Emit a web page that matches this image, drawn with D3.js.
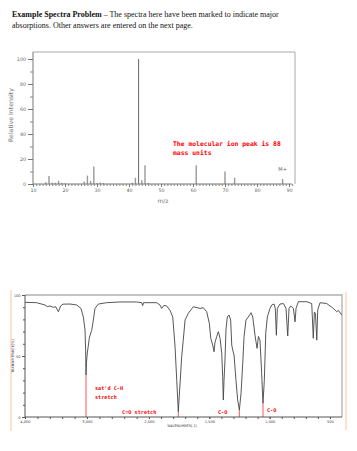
<!DOCTYPE html>
<html><head><meta charset="utf-8">
<script src="https://cdn.jsdelivr.net/npm/d3@7"></script>
<style>body{margin:0;background:#fff}svg{display:block}</style>
</head><body>
<script>
// ---------- Mass spectrum data ----------
const msMz  = [14, 15, 16, 17, 18, 19, 20, 26, 27, 28, 29, 30, 31, 32, 41, 42, 43, 44, 45, 46, 61, 70, 73, 88];
const msInt = [1.5, 6.5, 1, 1, 2.5, 1, 0.6, 2, 6.7, 2.4, 14, 0.8, 1.2, 0.8, 1, 5, 100, 3, 15, 0.8, 15, 10, 5, 4];
const msXTicks = [10, 20, 30, 40, 50, 60, 70, 80, 90];
const msYTicks = [0, 20, 40, 60, 80, 100];

// ---------- IR spectrum data ----------
const irWn = [4000,3812,3677,3640,3597,3543,3505,3462,3425,3387,3274,3166,3097,3059,3032,3022,3016,3008,2995,2980,2963,2945,2924,2898,2871,2817,2683,2468,2199,2118,2102,2090,1936,1909,1895,1876,1853,1826,1803,1784,1770,1757,1729,1716,1701,1674,1633,1577,1550,1522,1500,1488,1472,1461,1453,1439,1425,1411,1397,1389,1384,1378,1370,1362,1351,1337,1323,1314,1306,1295,1279,1265,1251,1237,1223,1212,1196,1177,1154,1140,1121,1113,1104,1093,1080,1066,1055,1044,1032,1019,997,983,963,953,944,936,914,886,864,850,839,825,803,789,781,762,692,651,638,629,620,609,601,582,527,472,444,430,402];
const irT  = [94,93.7,91.8,90.4,91,89.9,90.4,86.3,91,92.5,92.6,91.8,89,82,71.3,55,34.4,45,52.4,58,64.6,68,71,79.5,89,92.6,93.7,94.3,94.3,93.7,91.3,93.7,93.7,91.8,89,91.5,91,87.4,82,57.6,30,4.4,49.4,63,79.5,85,90.4,89,89.6,86.3,76.8,64.5,59,53.5,61,65.8,70,64.5,52,33,14,30,46.7,71.3,82,83.6,79.5,59,55,50.8,30,14,5.7,19.4,44,65.8,79.5,82,85.5,82,67,61.7,56.3,66,63,35.8,11.2,30,68.6,82,89,91.8,92.6,89,67,89,92.6,93,89,66.4,89,91,89,78,89,94.5,94.5,93,64.5,86,85,63,88,93.7,93,89,86.3,87.4,83.6];
const irXLabels = [4000, 3000, 2000, 1500, 1000, 500];
const irYLabels = [0, 50, 100];
const irMarkWn  = [3016, 1757, 1251, 1055];
const irMarkT   = [34.4, 4.4, 5.7, 11.2];
const irNotes = [
  {text: "sat'd C-H", wn: 2871, t: 22},
  {text: "stretch",   wn: 2871, t: 14.7},
  {text: "C=O stretch", wn: 2435, t: 2.5},
  {text: "C-O", wn: 1428, t: 2.5},
  {text: "C-O", wn: 1022, t: 4}
];

const W = 357, H = 451;
const svg = d3.select("body").append("svg").attr("width", W).attr("height", H);
svg.append("rect").attr("width", W).attr("height", H).attr("fill", "#fff");

// ---------- Header ----------
const hdr = svg.append("g").attr("font-family", "'Liberation Serif', 'Times New Roman', serif")
  .attr("font-size", 8).attr("fill", "#111");
const t1 = hdr.append("text").attr("x", 12).attr("y", 17);
t1.append("tspan").attr("font-weight", "bold").text("Example Spectra Problem");
t1.append("tspan").text(" \u2013 The spectra here have been marked to indicate major");
hdr.append("text").attr("x", 12).attr("y", 27.5).text("absorptions. Other answers are entered on the next page.");

// ---------- Mass spectrum ----------
const msX = d3.scaleLinear().domain([10, 90]).range([33, 289]);
const msY = d3.scaleLinear().domain([0, 100]).range([184, 59]);
const ms = svg.append("g");
ms.append("path").attr("d", `M33,52H295V184`).attr("fill", "none").attr("stroke", "#aaa").attr("stroke-width", 1);
ms.selectAll("line.bar").data(msMz).join("line").attr("class", "bar")
  .attr("x1", d => msX(d)).attr("x2", d => msX(d))
  .attr("y1", msY(0)).attr("y2", (d, i) => msY(msInt[i]))
  .attr("stroke", (d, i) => msInt[i] > 50 ? "#666" : "#999")
  .attr("stroke-width", (d, i) => msInt[i] > 50 ? 1 : 1.4);
const msXAxis = d3.axisBottom(msX).tickValues(msXTicks).tickSize(3).tickPadding(2).tickFormat(d3.format("d"));
const gx = ms.append("g").attr("transform", "translate(0,184)").call(msXAxis);
gx.select(".domain").attr("d", "M33,0H292").attr("stroke", "#777");
gx.selectAll(".tick line").attr("stroke", "#777");
gx.selectAll("text").attr("font-family", "'DejaVu Sans', sans-serif").attr("font-size", 4.8).attr("fill", "#666");
const msXMinor = d3.range(11, 92).filter(v => v % 10 !== 0);
ms.append("g").attr("transform", "translate(0,184)").call(d3.axisBottom(msX).tickValues(msXMinor).tickSize(2).tickFormat(""))
  .call(g => g.select(".domain").remove()).selectAll("line").attr("stroke", "#888");
const msYAxis = d3.axisLeft(msY).tickValues(msYTicks).tickSize(5).tickPadding(2);
const gy = ms.append("g").attr("transform", "translate(33,0)").call(msYAxis);
gy.select(".domain").attr("d", "M0,52V184").attr("stroke", "#777");
gy.selectAll(".tick line").attr("stroke", "#777");
gy.selectAll("text").attr("font-family", "'DejaVu Sans', sans-serif").attr("font-size", 4.8).attr("fill", "#666");
ms.append("g").attr("transform", "translate(33,0)").call(d3.axisLeft(msY).tickValues([10,30,50,70,90]).tickSize(3).tickFormat(""))
  .call(g => g.select(".domain").remove()).selectAll("line").attr("stroke", "#888");
ms.append("text").attr("transform", "translate(13,115) rotate(-90)").attr("text-anchor", "middle")
  .attr("font-family", "'DejaVu Sans', sans-serif").attr("font-size", 6.2).attr("fill", "#777").text("Relative Intensity");
ms.append("text").attr("x", 163).attr("y", 203).attr("text-anchor", "middle")
  .attr("font-family", "'DejaVu Sans', sans-serif").attr("font-size", 6).attr("fill", "#777").text("m/z");
ms.append("text").attr("x", msX(88)).attr("y", 171).attr("text-anchor", "middle")
  .attr("font-family", "'DejaVu Sans', sans-serif").attr("font-size", 5).attr("fill", "#666").text("M+");
const note = ms.append("g").attr("font-family", "'DejaVu Sans Mono', monospace").attr("font-weight", "bold")
  .attr("font-size", 6.4).attr("fill", "#f00");
note.append("text").attr("x", 173).attr("y", 146).text("The molecular ion peak is 88");
note.append("text").attr("x", 173).attr("y", 154.5).text("mass units");

// ---------- IR spectrum ----------
const irX = d3.scaleLinear().domain([4000, 2000, 400]).range([25, 149, 342]);
const irY = d3.scaleLinear().domain([0, 100]).range([417, 295]);
const ir = svg.append("g");
ir.append("line").attr("x1", 11).attr("x2", 11).attr("y1", 290).attr("y2", 431).attr("stroke", "#f6c4a2").attr("stroke-width", 1);
ir.append("line").attr("x1", 346).attr("x2", 346).attr("y1", 292).attr("y2", 430).attr("stroke", "#f6c4a2").attr("stroke-width", 1);
ir.append("path").attr("d", `M25,${irY(100)}H342V${irY(0)}`).attr("fill", "none").attr("stroke", "#b0b0b0").attr("stroke-width", 1.3);
ir.selectAll("line.mark").data(irMarkWn).join("line").attr("class", "mark")
  .attr("x1", d => irX(d)).attr("x2", d => irX(d))
  .attr("y1", irY(0)).attr("y2", (d, i) => irY(irMarkT[i]))
  .attr("stroke", "#f55").attr("stroke-width", 1);
const line = d3.line().x(d => irX(d[0])).y(d => irY(d[1]));
ir.append("path").datum(irWn.map((w, i) => [w, irT[i]])).attr("d", line)
  .attr("fill", "none").attr("stroke", "#444").attr("stroke-width", 0.9).attr("stroke-linejoin", "round");
const irMinor = d3.range(3800, 2000, -200).concat(d3.range(1900, 400, -100));
const gix = ir.append("g").attr("transform", `translate(0,${irY(0)})`)
  .call(d3.axisBottom(irX).tickValues(irXLabels).tickSize(2).tickPadding(1.5));
gix.select(".domain").attr("d", "M25,0H342").attr("stroke", "#555");
gix.selectAll(".tick line").attr("stroke", "#555");
gix.selectAll("text").attr("font-family", "'DejaVu Sans', sans-serif").attr("font-size", 3.6).attr("fill", "#444");
ir.append("g").attr("transform", `translate(0,${irY(0)})`)
  .call(d3.axisBottom(irX).tickValues(irMinor).tickSize(2).tickFormat(""))
  .call(g => g.select(".domain").remove()).selectAll("line").attr("stroke", "#555");
const giy = ir.append("g").attr("transform", "translate(25,0)")
  .call(d3.axisLeft(irY).tickValues(irYLabels).tickSize(3).tickPadding(1.5));
giy.select(".domain").attr("d", `M0,${irY(0)}V${irY(100)}`).attr("stroke", "#555");
giy.selectAll(".tick line").attr("stroke", "#555");
giy.selectAll("text").attr("font-family", "'DejaVu Sans', sans-serif").attr("font-size", 3.6).attr("fill", "#444");
ir.append("g").attr("transform", "translate(25,0)")
  .call(d3.axisLeft(irY).tickValues([10,20,30,40,60,70,80,90]).tickSize(2).tickFormat(""))
  .call(g => g.select(".domain").remove()).selectAll("line").attr("stroke", "#555");
ir.append("text").attr("transform", `translate(13.5,${irY(50)}) rotate(-90)`).attr("text-anchor", "middle")
  .attr("font-family", "'DejaVu Sans', sans-serif").attr("font-size", 3.3).attr("fill", "#444").text("TRANSMITTANCE[%]");
ir.append("text").attr("x", 182).attr("y", 427).attr("text-anchor", "middle")
  .attr("font-family", "'DejaVu Sans', sans-serif").attr("font-size", 3.3).attr("fill", "#444").text("WAVENUMBER[-1]");
ir.append("g").attr("font-family", "'DejaVu Sans Mono', monospace").attr("font-weight", "bold")
  .attr("font-size", 5.2).attr("fill", "#f00")
  .selectAll("text").data(irNotes).join("text")
  .attr("x", d => irX(d.wn)).attr("y", d => irY(d.t)).text(d => d.text);
</script>
</body></html>
